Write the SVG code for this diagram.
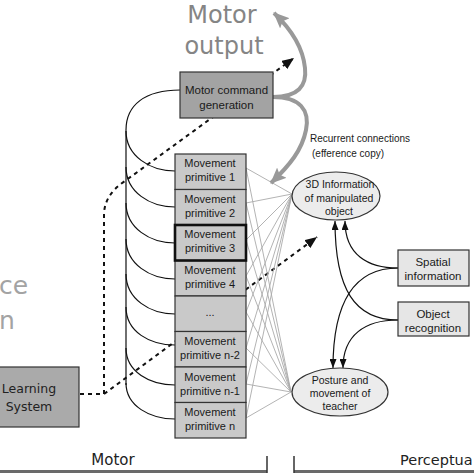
<svg xmlns="http://www.w3.org/2000/svg" width="474" height="474" viewBox="0 0 474 474">
<defs>
<marker id="grayhead" markerUnits="userSpaceOnUse" viewBox="0 0 16 14" refX="15" refY="7" markerWidth="16" markerHeight="14" orient="auto"><path d="M0,0 L16,7 L0,14 L3,7 z" fill="#999"/></marker>
<marker id="blackhead" markerUnits="userSpaceOnUse" viewBox="0 0 12 10" refX="12" refY="5" markerWidth="12" markerHeight="10" orient="auto"><path d="M0,0 L12,5 L0,10 z" fill="#111"/></marker>
<marker id="smallhead" markerUnits="userSpaceOnUse" viewBox="0 0 9 7" refX="9" refY="3.5" markerWidth="9" markerHeight="7" orient="auto"><path d="M0,0 L9,3.5 L0,7 z" fill="#111"/></marker>
<style>
.box{stroke:#333;stroke-width:1.2}
.mp{fill:#c9c9c9}
.t{font-family:"Liberation Sans",Arial,sans-serif;font-size:11px;fill:#1a1a1a;text-anchor:middle}
.big{font-family:"DejaVu Sans",sans-serif;font-size:24px;fill:#858585}
.lbl{font-family:"DejaVu Sans",sans-serif;font-size:15px;fill:#222}
.arc{fill:none;stroke:#111;stroke-width:1.2}
.dash{fill:none;stroke:#111;stroke-width:2;stroke-dasharray:4 4}
.thin{stroke:#aaa;stroke-width:0.9}
.gray{fill:none;stroke:#999;stroke-width:4}
</style>
</defs>
<rect width="474" height="474" fill="#fff"/>

<g id="labels">
<text class="big" x="222" y="23" text-anchor="middle">Motor</text>
<text class="big" x="224" y="54" text-anchor="middle">output</text>
<text class="big" x="-1" y="294" style="fill:#a3a3a3;font-size:25px">ce</text>
<text class="big" x="-1" y="329" style="fill:#a3a3a3;font-size:25px">n</text>
<text class="t" x="310" y="142" style="text-anchor:start;font-size:10px">Recurrent connections</text>
<text class="t" x="312" y="157" style="text-anchor:start;font-size:10px">(efference copy)</text>
<text class="lbl" x="113" y="465" text-anchor="middle">Motor</text>
<text class="lbl" x="400" y="465" style="font-size:14.5px">Perceptua</text>
</g>

<g id="connectors">
<path class="arc" d="M180,90 C145,90 126,105 126,130 L126,385"/>
<path class="arc" d="M126,131 C126,156 150,171 175,171"/>
<path class="arc" d="M126,167 C126,192 150,207 175,207"/>
<path class="arc" d="M126,203 C126,228 150,243 175,243"/>
<path class="arc" d="M126,239 C126,264 150,279 175,279"/>
<path class="arc" d="M126,274 C126,299 150,314 175,314"/>
<path class="arc" d="M126,307 C126,332 150,345 175,345"/>
<path class="arc" d="M126,348 C126,372 150,385 175,385"/>
<path class="arc" d="M126,383 C126,406 150,419 175,419"/>

<path class="dash" d="M80,394 L104,394"/>
<path class="dash" d="M104,394 L104,215 Q104,195 125,181 L294,58" marker-end="url(#blackhead)"/>
<path class="dash" d="M104,394 L317,237" marker-end="url(#blackhead)"/>

<g id="crosslines">
<line class="thin" x1="246" y1="168" x2="292" y2="194"/>
<line class="thin" x1="246" y1="168" x2="291" y2="392"/>
<line class="thin" x1="246" y1="203" x2="292" y2="194"/>
<line class="thin" x1="246" y1="203" x2="291" y2="392"/>
<line class="thin" x1="246" y1="240" x2="292" y2="194"/>
<line class="thin" x1="246" y1="240" x2="291" y2="392"/>
<line class="thin" x1="246" y1="276" x2="292" y2="194"/>
<line class="thin" x1="246" y1="276" x2="291" y2="392"/>
<line class="thin" x1="246" y1="312" x2="292" y2="194"/>
<line class="thin" x1="246" y1="312" x2="291" y2="392"/>
<line class="thin" x1="246" y1="348" x2="292" y2="194"/>
<line class="thin" x1="246" y1="348" x2="291" y2="392"/>
<line class="thin" x1="246" y1="384" x2="292" y2="194"/>
<line class="thin" x1="246" y1="384" x2="291" y2="392"/>
<line class="thin" x1="246" y1="418" x2="292" y2="194"/>
<line class="thin" x1="246" y1="418" x2="291" y2="392"/>
</g>

<path class="gray" d="M273,97 C298,97 307,86 305,68 C303,48 292,30 274,13" marker-end="url(#grayhead)"/>
<path class="gray" d="M273,97 C300,97 310,110 306,130 C302,150 290,165 271,183" marker-end="url(#grayhead)"/>

<path class="arc" d="M398,268 C368,268 345,255 345,221" marker-end="url(#smallhead)"/>
<path class="arc" d="M398,320 C355,320 335,290 335,221" marker-end="url(#smallhead)"/>
<path class="arc" d="M398,268 C355,268 333,300 333,368" marker-end="url(#smallhead)"/>
<path class="arc" d="M398,320 C365,320 343,335 343,368" marker-end="url(#smallhead)"/>

<g id="bars" fill="none">
<line x1="0" y1="471.5" x2="267" y2="471.5" stroke="#6a6a6a" stroke-width="3"/>
<line x1="267" y1="456" x2="267" y2="473" stroke="#333" stroke-width="1.5"/>
<line x1="294" y1="471.5" x2="474" y2="471.5" stroke="#6a6a6a" stroke-width="3"/>
<line x1="294" y1="456" x2="294" y2="473" stroke="#333" stroke-width="1.5"/>
</g>
</g>

<g id="motor-command">
<rect class="box" x="180" y="72" width="93" height="46" fill="#a3a3a3"/>
<text class="t" x="226.5" y="94" style="font-size:11.5px">Motor command</text>
<text class="t" x="226.5" y="109" style="font-size:11.5px">generation</text>
</g>

<g id="mp1"><rect class="box mp" x="175" y="154" width="71" height="35.5"/>
<text class="t" x="210" y="167">Movement</text><text class="t" x="210" y="181">primitive 1</text></g>
<g id="mp2"><rect class="box mp" x="175" y="189.5" width="71" height="35.5"/>
<text class="t" x="210" y="203">Movement</text><text class="t" x="210" y="217">primitive 2</text></g>
<g id="mp4"><rect class="box mp" x="175" y="260.5" width="71" height="35.5"/>
<text class="t" x="210" y="274">Movement</text><text class="t" x="210" y="288">primitive 4</text></g>
<g id="mpdots"><rect class="box mp" x="175" y="296" width="71" height="35.5"/>
<text class="t" x="210" y="316">...</text></g>
<g id="mpn2"><rect class="box mp" x="175" y="331.5" width="71" height="35.5"/>
<text class="t" x="210" y="345">Movement</text><text class="t" x="210" y="359">primitive n-2</text></g>
<g id="mpn1"><rect class="box mp" x="175" y="367" width="71" height="35.5"/>
<text class="t" x="210" y="381">Movement</text><text class="t" x="210" y="395">primitive n-1</text></g>
<g id="mpn"><rect class="box mp" x="175" y="402.5" width="71" height="35.5"/>
<text class="t" x="210" y="416">Movement</text><text class="t" x="210" y="430">primitive n</text></g>
<g id="mp3"><rect x="175" y="225" width="71" height="35.5" fill="#c9c9c9" stroke="#111" stroke-width="2.6"/>
<text class="t" x="210" y="238">Movement</text><text class="t" x="210" y="252">primitive 3</text></g>

<g id="learning">
<rect class="box" x="-10" y="367" width="89" height="60" fill="#aaaaaa"/>
<text x="29" y="393" text-anchor="middle" style="font-family:'DejaVu Sans',sans-serif;font-size:12.5px;fill:#222">Learning</text>
<text x="29" y="411" text-anchor="middle" style="font-family:'DejaVu Sans',sans-serif;font-size:12.5px;fill:#222">System</text>
</g>

<g id="info3d">
<ellipse class="box" cx="336" cy="196" rx="44" ry="24" fill="#ececec"/>
<text class="t" x="340" y="188" style="font-size:10.5px">3D Information</text>
<text class="t" x="339" y="202" style="font-size:10.5px">of manipulated</text>
<text class="t" x="339" y="215" style="font-size:10.5px">object</text>
</g>

<g id="posture">
<ellipse class="box" cx="340" cy="392" rx="48" ry="24" fill="#ececec"/>
<text class="t" x="340" y="384" style="font-size:10.5px">Posture and</text>
<text class="t" x="340" y="397" style="font-size:10.5px">movement of</text>
<text class="t" x="340" y="410" style="font-size:10.5px">teacher</text>
</g>

<g id="spatial">
<rect class="box" x="398" y="250" width="71" height="36" fill="#e6e6e6"/>
<text class="t" x="433" y="266" style="font-size:11.5px">Spatial</text>
<text class="t" x="433" y="280" style="font-size:11.5px">information</text>
</g>

<g id="object">
<rect class="box" x="398" y="302" width="71" height="34" fill="#e6e6e6"/>
<text class="t" x="433" y="318" style="font-size:11.5px">Object</text>
<text class="t" x="433" y="332" style="font-size:11.5px">recognition</text>
</g>
</svg>
